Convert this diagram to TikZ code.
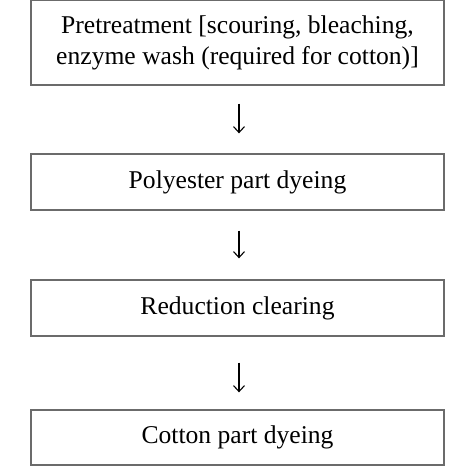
\documentclass[tikz,border=0pt]{standalone}
\usepackage{fontspec}
\setmainfont{Liberation Serif}
\usetikzlibrary{arrows.meta}
\tikzset{
  stagebox/.style={draw=black!58,line width=1.3pt,minimum width=413pt,align=center,
    inner sep=0pt,font=\fontsize{25.6}{31}\selectfont},
  flowarrow/.style={line width=1.1pt,-{Straight Barb[length=6pt,width=11pt,line width=1.1pt]}}
}
\begin{document}
\begin{tikzpicture}
\useasboundingbox (0,0) rectangle (474pt,-474pt);
\node[stagebox,minimum height=85pt] (pre) at (237.5pt,-42.5pt)
  {Pretreatment [scouring, bleaching,\\enzyme wash (required for cotton)]};
\node[stagebox,minimum height=56pt] (poly) at (237.5pt,-182pt) {Polyester part dyeing};
\node[stagebox,minimum height=56pt] (red) at (237.5pt,-308pt) {Reduction clearing};
\node[stagebox,minimum height=55pt] (cot) at (237.5pt,-437.5pt) {Cotton part dyeing};
\draw[flowarrow,shorten <=18pt,shorten >=20pt] ([xshift=1.5pt]pre.south) -- ([xshift=1.5pt]poly.north);
\draw[flowarrow,shorten <=20pt,shorten >=21pt] ([xshift=1.5pt]poly.south) -- ([xshift=1.5pt]red.north);
\draw[flowarrow,shorten <=26pt,shorten >=17pt] ([xshift=1.5pt]red.south) -- ([xshift=1.5pt]cot.north);
\end{tikzpicture}
\end{document}
